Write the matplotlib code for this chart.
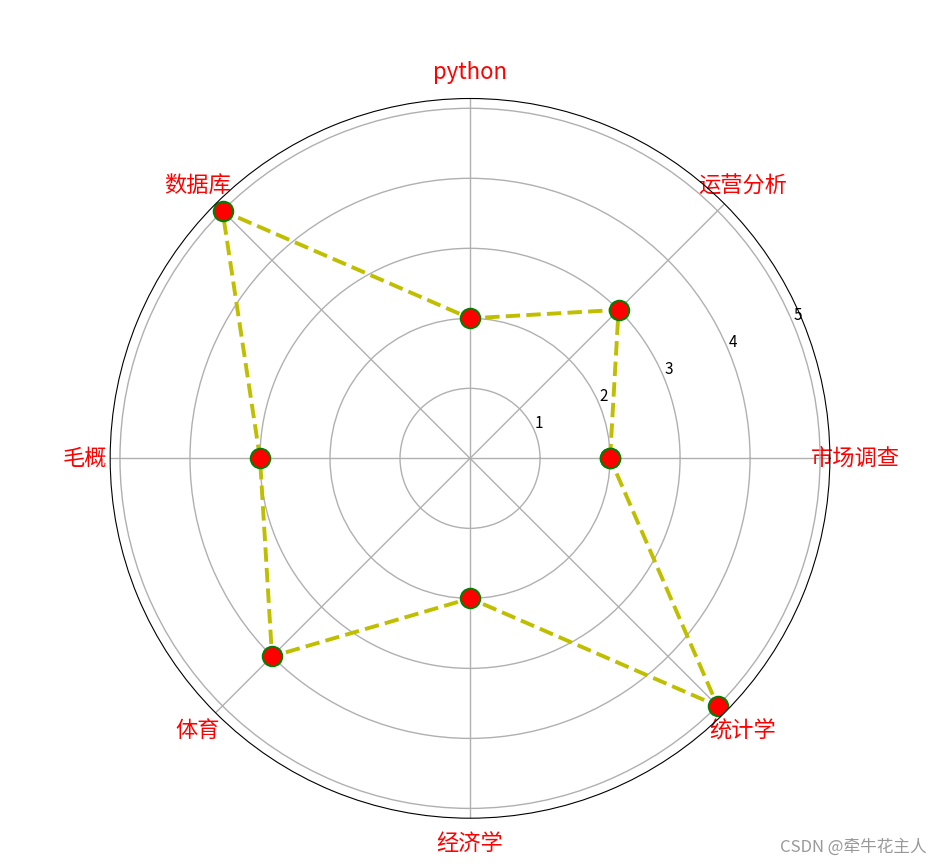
import numpy as np
import matplotlib.pyplot as plt

plt.rcParams['font.family'] = ['Noto Sans CJK SC', 'DejaVu Sans']
plt.rcParams['axes.unicode_minus'] = False

# 课程与成绩
labels = ['市场调查', '运营分析', 'python', '数据库', '毛概', '体育', '经济学', '统计学']
scores = [2, 3, 2, 5, 3, 4, 2, 5]


def main():
    n = len(labels)
    angles = np.linspace(0, 2 * np.pi, n, endpoint=False)
    # 闭合
    ang = np.concatenate([angles, angles[:1]])
    vals = np.concatenate([scores, scores[:1]])

    fig = plt.figure(figsize=(9.41, 8.64), dpi=100)
    ax = fig.add_axes([0.117, 0.053, 0.765, 0.833], polar=True)

    ax.plot(ang, vals, 'y--', linewidth=2.8, marker='o', markersize=14,
            markerfacecolor='red', markeredgecolor='green', markeredgewidth=1.5)

    ax.set_thetagrids(np.degrees(angles), labels, color='red', fontsize=16)
    ax.tick_params(axis='x', pad=8)
    ax.set_ylim(0, 5.14)
    ax.set_rgrids([1, 2, 3, 4, 5], fontsize=11)
    ax.grid(True, color='#b0b0b0', linewidth=1)

    fig.text(0.985, 0.01, 'CSDN @牵牛花主人', ha='right', va='bottom',
             color='#999999', fontsize=12)

    plt.savefig('out.png', dpi=100)
    plt.close()


if __name__ == "__main__":
    main()
